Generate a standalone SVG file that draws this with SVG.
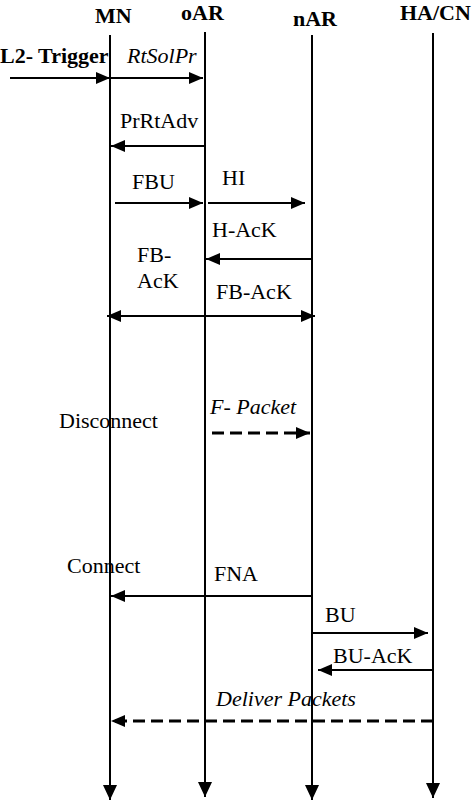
<svg xmlns="http://www.w3.org/2000/svg" width="474" height="801" viewBox="0 0 474 801">
<defs>
<marker id="ah" viewBox="0 0 14 12" refX="14" refY="6" markerWidth="14" markerHeight="12" markerUnits="userSpaceOnUse" orient="auto-start-reverse">
<path d="M0,0 L14,6 L0,12 Z" fill="#000"/>
</marker>
<marker id="ahv" viewBox="0 0 15 14" refX="15" refY="7" markerWidth="15" markerHeight="14" markerUnits="userSpaceOnUse" orient="auto">
<path d="M0,0 L15,7 L0,14 Z" fill="#000"/>
</marker>
</defs>
<style>
text{font-family:"Times New Roman","Liberation Serif",Tinos,serif;font-size:22px;fill:#000}
.b{font-weight:bold}
.i{font-style:italic}
.life{stroke:#000;stroke-width:2;fill:none;marker-end:url(#ahv)}
.msg{stroke:#000;stroke-width:2;fill:none;marker-end:url(#ah)}
.dash{stroke-width:3;stroke-dasharray:12,6}
.both{marker-start:url(#ah)}
</style>
<rect width="474" height="801" fill="#fff"/>
<g id="MN"><text class="b" x="95" y="23">MN</text><line class="life" x1="110" y1="35" x2="110" y2="800"/></g>
<g id="oAR"><text class="b" x="181" y="20">oAR</text><line class="life" x1="205" y1="32" x2="205" y2="797"/></g>
<g id="nAR"><text class="b" x="293" y="26">nAR</text><line class="life" x1="312" y1="35" x2="312" y2="800"/></g>
<g id="HACN"><text class="b" x="400" y="20">HA/CN</text><line class="life" x1="433" y1="33" x2="433" y2="798"/></g>
<g id="labels">
<text class="b" x="0" y="63">L2- Trigger</text>
<text class="i" x="127" y="63">RtSolPr</text>
<text x="120" y="128">PrRtAdv</text>
<text x="132" y="189">FBU</text>
<text x="222" y="185">HI</text>
<text x="212" y="237">H-AcK</text>
<text x="137" y="262">FB-</text>
<text x="137" y="288">AcK</text>
<text x="216" y="299">FB-AcK</text>
<text class="i" x="210" y="414">F- Packet</text>
<text x="59" y="428">Disconnect</text>
<text x="67" y="573">Connect</text>
<text x="214" y="581">FNA</text>
<text x="325" y="622">BU</text>
<text x="333" y="663">BU-AcK</text>
<text class="i" x="216" y="706">Deliver Packets</text>
</g>
<g id="connectors">
<line class="msg" x1="10" y1="78" x2="110" y2="78"/>
<line class="msg" x1="110" y1="78" x2="203" y2="78"/>
<line class="msg" x1="205" y1="146" x2="111" y2="146"/>
<line class="msg" x1="115" y1="203" x2="203" y2="203"/>
<line class="msg" x1="208" y1="203" x2="305" y2="203"/>
<line class="msg" x1="313" y1="259" x2="206" y2="259"/>
<line class="msg both" x1="107" y1="316" x2="315" y2="316"/>
<line class="msg dash" x1="212" y1="433" x2="310" y2="433"/>
<line class="msg" x1="312" y1="596" x2="111" y2="596"/>
<line class="msg" x1="312" y1="633" x2="428" y2="633"/>
<line class="msg" x1="433" y1="670" x2="318" y2="670"/>
<line class="msg dash" x1="433" y1="721" x2="111" y2="721"/>
</g>
</svg>
